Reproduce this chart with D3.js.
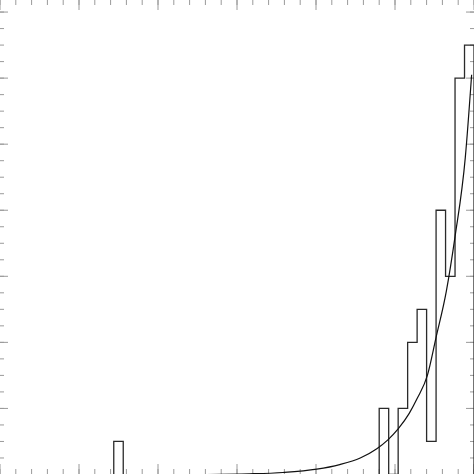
<!DOCTYPE html>
<html>
<head>
<meta charset="utf-8">
<script src="https://cdn.jsdelivr.net/npm/d3@7"></script>
<style>
body { margin: 0; background: #fff; }
svg { display: block; }
</style>
</head>
<body>
<svg id="chartSvg"></svg>
<script>
// histogram bins (left edge of each bin) and counts
const binWidth = 0.12
const binLo = [1.44, 4.80, 4.92, 5.04, 5.16, 5.28, 5.40, 5.52, 5.64, 5.76, 5.88]
const counts = [1, 2, 0, 2, 4, 5, 1, 8, 6, 12, 13]

// fitted curve, sampled by eye
const curveX = [2.62, 3.16, 3.58, 4.01, 4.30, 4.56, 4.77, 4.91, 5.04, 5.18, 5.28, 5.41, 5.52, 5.65, 5.76, 5.89, 5.97]
const curveY = [0.0, 0.02, 0.06, 0.16, 0.30, 0.50, 0.78, 1.05, 1.38, 1.85, 2.3, 3.0, 4.15, 5.55, 7.2, 9.6, 12.1]

const xDomain = [0, 6]
const yDomain = [0, 14.35]
const xMajor = d3.range(0, 6.01, 1)
const xMinor = d3.range(0, 6.01, 0.2)
const yMajor = d3.range(0, 14.4, 2)
const yMinor = d3.range(0, 14.4, 0.5)

let width = 474
let height = 474

const svg = d3.select('#chartSvg')
    .attr('width', width)
    .attr('height', height)

xScale = d3.scaleLinear().domain(xDomain).range([0, width])
yScale = d3.scaleLinear().domain(yDomain).range([height + 0.5, 0.5])

// ticks on all four sides, pointing inward
const tickColor = '#9a9a9a'
function ticksX(vals, len) {
    svg.append('g').selectAll('line').data(vals).enter().append('line')
        .attr('x1', d => xScale(d)).attr('x2', d => xScale(d))
        .attr('y1', height).attr('y2', height - len)
        .attr('stroke', tickColor)
    svg.append('g').selectAll('line').data(vals).enter().append('line')
        .attr('x1', d => xScale(d)).attr('x2', d => xScale(d))
        .attr('y1', 0).attr('y2', len)
        .attr('stroke', tickColor)
}
function ticksY(vals, len) {
    svg.append('g').selectAll('line').data(vals).enter().append('line')
        .attr('x1', 0).attr('x2', len)
        .attr('y1', d => yScale(d)).attr('y2', d => yScale(d))
        .attr('stroke', tickColor)
    svg.append('g').selectAll('line').data(vals).enter().append('line')
        .attr('x1', width).attr('x2', width - len)
        .attr('y1', d => yScale(d)).attr('y2', d => yScale(d))
        .attr('stroke', tickColor)
}
ticksX(xMinor, 5)
ticksX(xMajor, 10)
ticksY(yMinor, 4)
ticksY(yMajor, 8)

// step outline, one path per run of touching bins
let runs = []
let cur = null
for (let i = 0; i < binLo.length; i++) {
    if (cur && Math.abs(binLo[i] - cur.end) < 1e-6) {
        cur.bins.push(i)
        cur.end = binLo[i] + binWidth
    } else {
        cur = {bins: [i], end: binLo[i] + binWidth}
        runs.push(cur)
    }
}

const stepLine = d3.line().x(d => xScale(d[0])).y(d => yScale(d[1]))

runs.forEach(run => {
    let pts = [[binLo[run.bins[0]], 0]]
    run.bins.forEach(i => {
        pts.push([binLo[i], counts[i]])
        pts.push([binLo[i] + binWidth, counts[i]])
    })
    pts.push([run.end, 0])
    svg.append('path')
        .attr('d', stepLine(pts))
        .attr('fill', 'none')
        .attr('stroke', '#2a2a2a')
        .attr('stroke-width', 1.3)
})

const fitLine = d3.line()
    .x((d, i) => xScale(curveX[i]))
    .y((d, i) => yScale(curveY[i]))
    .curve(d3.curveMonotoneX)

svg.append('path')
    .attr('d', fitLine(curveX))
    .attr('fill', 'none')
    .attr('stroke', '#111')
    .attr('stroke-width', 1.2)
</script>
</body>
</html>
